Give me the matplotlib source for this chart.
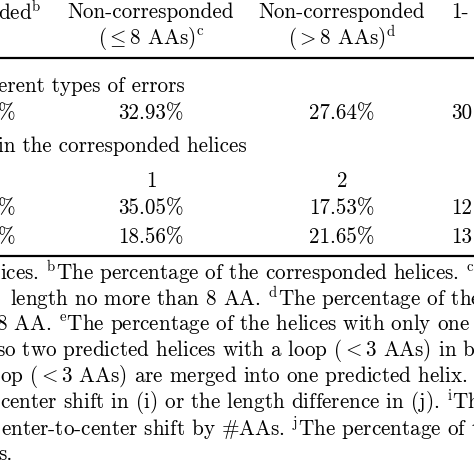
import matplotlib.pyplot as plt
import matplotlib

matplotlib.rcParams["font.family"] = "cmr10"
matplotlib.rcParams["mathtext.fontset"] = "cm"
matplotlib.rcParams["axes.unicode_minus"] = False

fs = 15.2

header_top = [r"ded$^{\rm b}$", "Non-corresponded", "Non-corresponded", "1-"]
header_bot = ["", r"($\leq$8 AAs)$^{\rm c}$", r"($>$8 AAs)$^{\rm d}$", ""]
section1 = "erent types of errors"
row1 = ["%", "32.93%", "27.64%", "30"]
section2 = "in the corresponded helices"
shift_labels = ["", "1", "2", ""]
row2 = ["%", "35.05%", "17.53%", "12"]
row3 = ["%", "18.56%", "21.65%", "13"]
footnotes = [
    r"ices. $^{\rm b}$The percentage of the corresponded helices. $^{\rm c}$T",
    r"length no more than 8 AA. $^{\rm d}$The percentage of the",
    r"8 AA. $^{\rm e}$The percentage of the helices with only one",
    r"so two predicted helices with a loop ($<$3 AAs) in be",
    r"op ($<$3 AAs) are merged into one predicted helix. $^{\rm h}$Th",
    r"center shift in (i) or the length difference in (j). $^{\rm i}$Th",
    r"enter-to-center shift by #AAs. $^{\rm j}$The percentage of the",
    "s.",
]
foot_x = [0, 10, -4, -4, 0, 0, 1, -2]

W = H = 474
fig = plt.figure(figsize=(4.74, 4.74), dpi=100)
ax = fig.add_axes([0, 0, 1, 1])
ax.set_xlim(0, W)
ax.set_ylim(H, 0)
ax.axis("off")

col_x = [-2, 151, 342, 451]

def row(vals, y):
    for i, v in enumerate(vals):
        if not v:
            continue
        ha = "center" if i in (1, 2) else "left"
        ax.text(col_x[i], y, v, ha=ha, va="center", fontsize=fs)

row(header_top, 12)
row(header_bot, 38)
ax.plot([0, W], [58, 58], color="black", lw=1.6)
ax.text(-2, 86, section1, ha="left", va="center", fontsize=fs)
row(row1, 113)
ax.text(-2, 146, section2, ha="left", va="center", fontsize=fs)
row(shift_labels, 181)
row(row2, 208)
row(row3, 237)
ax.plot([0, W], [256, 256], color="black", lw=1.6)

for i, (t, x) in enumerate(zip(footnotes, foot_x)):
    ax.text(x, 272 + 26 * i, t, ha="left", va="center", fontsize=fs)

fig.savefig("out.png", dpi=100)
